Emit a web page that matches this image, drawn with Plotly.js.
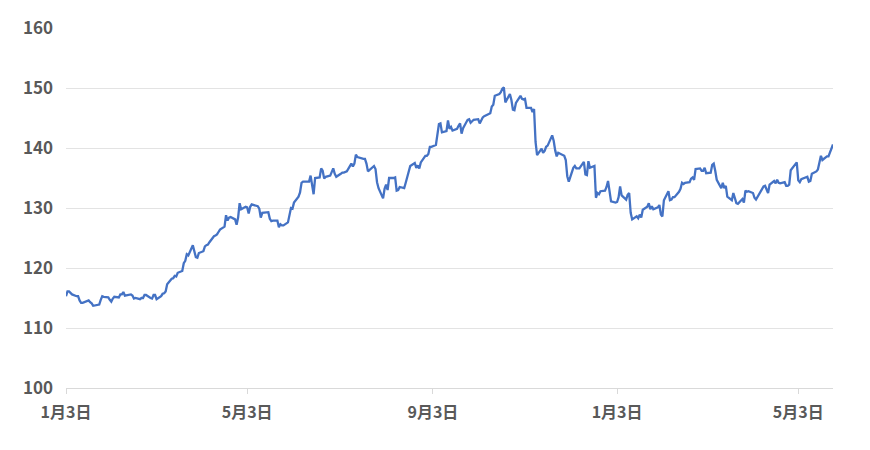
<!DOCTYPE html>
<html>
<head>
<meta charset="utf-8">
<script src="https://cdn.plot.ly/plotly-3.0.1.min.js"></script>
<style>html,body{margin:0;padding:0;background:#fff;}#chart{width:870px;height:450px;}</style>
</head>
<body>
<div id="chart"></div>
<script>
// Daily (weekday) closing values
const jan22 = [115.3,116.1,116.1,115.8,115.6,115.3,115.3,114.6,114.2,114.2,114.6,114.6,114.3,114.1,113.7,113.9,113.9,114.7,115.3,115.2,115.1];
const feb22 = [114.7,114.4,114.9,115.2,115.1,115.6,115.6,116.0,115.4,115.6,115.6,115.4,114.9,115.0,114.8,115.0,115.0,115.5,115.5,115.0];
const mar22 = [114.9,115.5,115.5,114.8,115.3,115.7,115.8,116.1,117.3,118.2,118.3,118.7,118.6,119.2,119.5,120.8,121.2,122.3,122.1,123.8,122.8,121.8,121.7];
const apr22 = [122.5,122.8,123.6,123.8,123.9,124.3,125.3,125.4,125.6,126.0,126.4,126.9,128.8,127.9,128.4,128.5,128.1,127.2,128.4,130.8,129.8];
const may22 = [130.2,130.1,129.1,130.2,130.6,130.3,130.3,129.9,128.4,129.2,129.2,129.3,128.2,127.8,127.9,127.9,126.8,127.3,127.1,127.1,127.6,128.7];
const jun22 = [130.0,129.9,130.9,131.9,132.6,134.2,134.4,134.4,134.4,135.4,134.0,132.3,135.0,135.1,136.6,136.2,134.9,135.2,135.4,136.1,136.6,135.7];
const jul22 = [135.2,135.7,135.9,135.9,136.0,136.1,137.4,136.9,137.4,138.9,138.5,138.2,138.2,138.2,137.4,136.1,136.7,137.0,136.5,134.3,133.3];
const aug22 = [131.6,133.2,133.9,133.0,135.0,135.0,135.1,132.9,133.0,133.5,133.3,134.2,135.1,135.9,137.0,137.5,136.7,137.1,136.6,137.6,138.7,138.7,139.0];
const sep22 = [140.2,140.2,140.5,142.8,144.0,144.1,142.6,142.8,144.6,143.2,143.5,142.9,143.2,143.7,144.1,142.4,143.3,144.7,144.8,144.2,144.5,144.7];
const oct22 = [144.8,144.1,144.6,145.1,145.3,145.7,145.8,146.9,147.2,148.7,149.0,149.3,149.9,150.1,147.6,149.0,148.0,146.4,146.3,147.5,148.7];
const nov22 = [148.2,148.1,148.2,146.7,146.7,146.0,146.5,141.0,138.8,139.9,139.2,139.5,140.2,140.4,142.1,141.2,139.6,138.6,139.2,138.9,138.7,138.0];
const dec22 = [135.3,134.4,136.7,137.0,136.6,136.6,136.6,137.7,135.6,135.5,137.8,136.7,137.0,131.7,132.5,132.3,132.8,132.9,133.5,134.5,133.0,131.1];
const jan23 = [130.9,131.0,131.8,133.6,132.1,131.4,132.2,132.5,129.2,128.1,128.6,128.3,128.9,128.4,129.7,130.2,130.8,129.8,130.3,129.8,130.1,130.5];
const feb23 = [128.9,128.6,131.3,132.8,131.3,131.4,131.8,131.8,132.7,133.2,134.2,134.0,134.2,134.3,134.9,135.1,134.7,136.5,136.6,136.2];
const mar23 = [136.2,136.7,135.8,135.9,137.2,137.4,136.2,134.7,133.3,134.2,133.3,133.7,131.9,131.3,132.5,131.4,130.8,130.7,131.5,130.9,132.9,132.7,132.8];
const apr23 = [132.5,131.7,131.4,131.8,132.2,133.6,133.7,133.1,132.5,133.9,134.5,134.1,134.7,134.2,134.1,134.3,133.7,133.7,133.9,136.3];
const may23 = [137.3,137.6,134.6,134.3,134.8,135.1,135.2,134.4,134.5,135.7,136.1,136.4,137.6,138.7,138.0,138.6,138.6,139.4,139.9,140.6];

// month blocks: [year, month(1-12), first day, values]
const months = [
  [2022,1,3,jan22],[2022,2,1,feb22],[2022,3,1,mar22],[2022,4,1,apr22],
  [2022,5,1,may22],[2022,6,1,jun22],[2022,7,1,jul22],[2022,8,1,aug22],
  [2022,9,1,sep22],[2022,10,1,oct22],[2022,11,1,nov22],[2022,12,1,dec22],
  [2023,1,1,jan23],[2023,2,1,feb23],[2023,3,1,mar23],[2023,4,1,apr23],[2023,5,1,may23]
];

const tickVals = ['2022-01-03','2022-05-03','2022-09-03','2023-01-03','2023-05-03'];
const tickText = ['1月3日','5月3日','9月3日','1月3日','5月3日'];

function pad(n){return (n<10?'0':'')+n;}
const xs = [], ys = [];
months.forEach(([yr, mo, d0, vals]) => {
  let d = new Date(Date.UTC(yr, mo-1, d0));
  let i = 0;
  while (i < vals.length && d.getUTCMonth() === mo-1) {
    const wd = d.getUTCDay();
    if (wd !== 0 && wd !== 6) {
      xs.push(d.getUTCFullYear()+'-'+pad(d.getUTCMonth()+1)+'-'+pad(d.getUTCDate()));
      ys.push(vals[i]);
      i++;
    }
    d = new Date(d.getTime() + 86400000);
  }
});

const font = {family: '"Noto Sans CJK JP", "Noto Sans", sans-serif', size: 16, color: '#595959'};

Plotly.newPlot('chart', [{
  x: xs, y: ys, type: 'scatter', mode: 'lines',
  line: {color: '#4472C4', width: 2.3},
  hoverinfo: 'x+y'
}], {
  width: 870, height: 450,
  margin: {l: 66, r: 37, t: 28, b: 62},
  paper_bgcolor: '#ffffff', plot_bgcolor: '#ffffff',
  showlegend: false,
  font: font,
  xaxis: {
    type: 'date',
    range: [xs[0], xs[xs.length-1]],
    tickvals: tickVals, ticktext: tickText,
    ticks: 'outside', ticklen: 5, tickcolor: '#d9d9d9', tickwidth: 1,
    ticklabelstandoff: 5,
    showline: true, linecolor: '#d9d9d9', linewidth: 1,
    showgrid: false, zeroline: false,
    tickfont: {family: font.family, size: 16, color: '#595959', weight: 'bold'}
  },
  yaxis: {
    range: [100, 160], dtick: 10, tick0: 100,
    showgrid: true, gridcolor: '#e3e3e3', gridwidth: 1,
    zeroline: false, showline: false, ticks: '',
    ticklabelstandoff: 12,
    tickfont: {family: font.family, size: 17, color: '#595959', weight: 'bold'}
  }
}, {displayModeBar: false, staticPlot: true});
</script>
</body>
</html>
